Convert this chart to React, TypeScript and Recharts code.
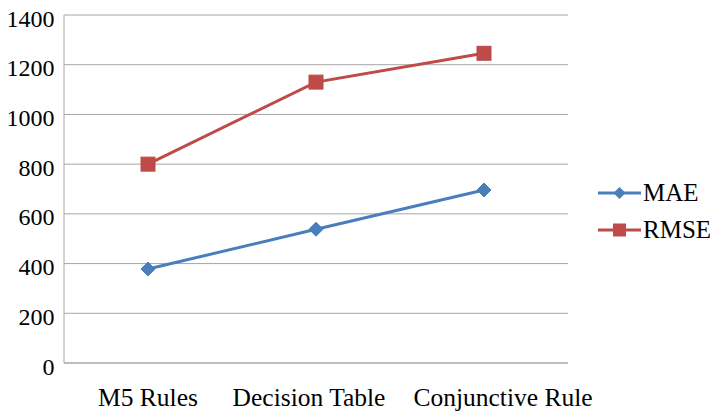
import React from "react";
import { LineChart, Line, XAxis, YAxis, CartesianGrid, Legend } from "recharts";

const categories = ["M5 Rules", "Decision Table", "Conjunctive Rule"];
const maeValues = [378, 538, 696];
const rmseValues = [800, 1130, 1246];
const yTicks = [0, 200, 400, 600, 800, 1000, 1200, 1400];

const data = categories.map((c, i) => ({ name: c, MAE: maeValues[i], RMSE: rmseValues[i] }));

const BLUE = "#4A7EBB";
const RED = "#BE4B48";
const GRID = "#A6A6A6";
const FONT = "Liberation Serif";
const X_LABEL_SHIFT = [0, -7, 19];

const Diamond = (props: any) => {
  const { cx, cy } = props;
  if (cx == null || cy == null) return null;
  const r = 7;
  return <path d={`M${cx},${cy - r}L${cx + r},${cy}L${cx},${cy + r}L${cx - r},${cy}Z`} fill={BLUE} stroke={BLUE} strokeWidth={1} />;
};

const Square = (props: any) => {
  const { cx, cy } = props;
  if (cx == null || cy == null) return null;
  const s = 7;
  return <rect x={cx - s} y={cy - s} width={2 * s} height={2 * s} fill={RED} stroke={RED} strokeWidth={1} />;
};

const YTick = (props: any) => {
  const { x, y, payload } = props;
  return (
    <text x={x - 1.5} y={y + 11.5} textAnchor="end" style={{ fontFamily: FONT, fontSize: 24 }} fill="#000">
      {payload.value}
    </text>
  );
};

const XTick = (props: any) => {
  const { x, y, payload, index } = props;
  const dx = X_LABEL_SHIFT[index] ?? 0;
  return (
    <text x={x + dx} y={y + 35} textAnchor="middle" style={{ fontFamily: FONT, fontSize: 25.5 }} fill="#000">
      {payload.value}
    </text>
  );
};

const LegendContent = () => (
  <div style={{ fontFamily: FONT, fontSize: 25, color: "#000", lineHeight: 1 }}>
    {[
      { name: "MAE", color: BLUE, shape: "d" },
      { name: "RMSE", color: RED, shape: "s" },
    ].map((it) => (
      <div key={it.name} style={{ display: "flex", alignItems: "center", height: 37 }}>
        <svg width={43} height={20} style={{ marginRight: 2, display: "block" }}>
          <line x1={0} y1={10} x2={43} y2={10} stroke={it.color} strokeWidth={3} />
          {it.shape === "d" ? (
            <path d="M21.5,4L27.5,10L21.5,16L15.5,10Z" fill={it.color} />
          ) : (
            <rect x={15} y={3.5} width={13} height={13} fill={it.color} />
          )}
        </svg>
        <span>{it.name}</span>
      </div>
    ))}
  </div>
);

export default function App() {
  return (
    <div style={{ position: "absolute", left: 0, top: 0, width: 723, height: 416, background: "#fff", fontFamily: FONT }}>
      <LineChart width={723} height={416} data={data} margin={{ top: 15, right: 155, bottom: 0, left: 0 }} style={{ fontFamily: FONT }}>
        <CartesianGrid vertical={false} stroke={GRID} strokeWidth={1} />
        <XAxis
          dataKey="name"
          axisLine={{ stroke: GRID }}
          tickLine={false}
          height={53}
          padding={{ left: 84, right: 84 }}
          tick={<XTick />}
          interval={0}
        />
        <YAxis
          width={64}
          domain={[0, 1400]}
          ticks={yTicks}
          axisLine={{ stroke: GRID }}
          tickLine={false}
          tick={<YTick />}
        />
        <Legend
          layout="horizontal"
          verticalAlign="middle"
          align="center"
          content={<LegendContent />}
          wrapperStyle={{ position: "absolute", left: 598, top: 174, width: 120, height: 80 }}
        />
        <Line type="linear" dataKey="MAE" stroke={BLUE} strokeWidth={3} dot={<Diamond />} activeDot={false} isAnimationActive={false} />
        <Line type="linear" dataKey="RMSE" stroke={RED} strokeWidth={3} dot={<Square />} activeDot={false} isAnimationActive={false} />
      </LineChart>
    </div>
  );
}
